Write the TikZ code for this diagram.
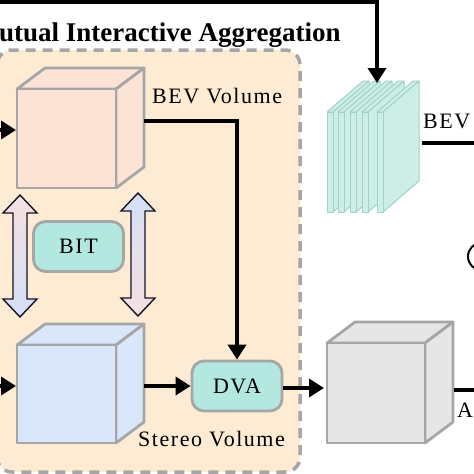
\documentclass[tikz,border=0pt]{standalone}
\usepackage{fontspec}
\setmainfont{Liberation Serif}
\newfontfamily\labfont[LetterSpace=7]{Liberation Serif}
\usetikzlibrary{arrows.meta}
\definecolor{bgorange}{HTML}{FDEBD3}
\definecolor{bevpink}{HTML}{FCE3D5}
\definecolor{stblue}{HTML}{DAE7FB}
\definecolor{grayc}{HTML}{E6E6E6}
\definecolor{tealc}{HTML}{B2E8DF}
\definecolor{slicec}{HTML}{CCEEE7}
\definecolor{sliceline}{HTML}{A2D2CA}
\definecolor{cubeline}{HTML}{A6A6A6}
\definecolor{arrpink}{HTML}{F6E1E2}
\definecolor{arrblue}{HTML}{D3DFF6}
\definecolor{arrline}{HTML}{141428}
\newcommand\drawcube[5]{%
  \begin{scope}[shift={(#1,#2)}]
    \filldraw[cubestyle, fill=#5] (0,0) -- ++(28,-21) -- ++(#3,0) -- ++(-28,21) -- cycle;
    \filldraw[cubestyle, fill=#5] (#3,0) -- ++(28,-21) -- ++(0,#4) -- ++(-28,21) -- cycle;
    \filldraw[cubestyle, fill=#5] (0,0) rectangle (#3,#4);
  \end{scope}}
\newcommand\drawslice[1]{%
  \begin{scope}[shift={(#1,112)}]
    \filldraw[slicestyle] (0,0) -- ++(36,-31) -- ++(6,0) -- ++(-36,31) -- cycle;
    \filldraw[slicestyle] (6,0) -- ++(36,-31) -- ++(0,100) -- ++(-36,31) -- cycle;
    \filldraw[slicestyle] (0,0) rectangle (6,100);
  \end{scope}}
\begin{document}
\begin{tikzpicture}[x=1pt,y=-1pt,
  cubestyle/.style={draw=cubeline, line width=2.8pt, line join=round},
  slicestyle/.style={draw=sliceline, fill=slicec, line width=1pt, line join=round},
  box/.style={draw=cubeline, fill=tealc, line width=2.8pt, rounded corners=12pt,
    minimum width=90pt, minimum height=50pt, inner sep=0pt, font=\labfont\fontsize{22}{24}\selectfont},
  lab/.style={inner sep=0pt, anchor=base west, font=\labfont\fontsize{22}{24}\selectfont},
  conn/.style={line width=3.6pt, draw=black},
  arr/.style={conn, -{Triangle[length=15pt,width=18pt]}}
]
\useasboundingbox (0,0) rectangle (474,474);
\clip (0,0) rectangle (474,474);
\fill[white] (0,0) rectangle (474,474);

% group frame
\draw[draw=cubeline, fill=bgorange, line width=3.5pt, dash pattern=on 10pt off 7pt,
  rounded corners=15pt] (-3,50) rectangle (300,472);

% title
\node[inner sep=0pt, anchor=base west, font=\bfseries\fontsize{27}{29}\selectfont] (title) at (-1,41) {utual Interactive Aggregation};

% cubes
\drawcube{17}{89}{99}{99}{bevpink}
\drawcube{17}{345}{99}{98}{stblue}
\drawcube{327}{343}{98}{100}{grayc}

% slices
\drawslice{327}
\drawslice{338}
\drawslice{350}
\drawslice{362}
\drawslice{377}

% double arrows
\shadedraw[top color=arrpink, bottom color=arrblue, draw=arrline, line width=1.4pt]
  (20,195) -- (37,213) -- (27,213) -- (27,299) -- (37,299) -- (20,317) -- (3,299)
  -- (13,299) -- (13,213) -- (3,213) -- cycle;
\shadedraw[top color=arrblue, bottom color=arrpink, draw=arrline, line width=1.4pt]
  (138,193) -- (155,211) -- (145,211) -- (145,298) -- (155,298) -- (138,316) -- (121,298)
  -- (131,298) -- (131,211) -- (121,211) -- cycle;

% nodes
\node[box] (bit) at (78.5,246.5) {BIT};
\node[box] (dva) at (237,386) {DVA};

% labels
\node[lab] (bevlab) at (152,103) {BEV Volume};
\node[lab] (stlab) at (138,446) {Stereo Volume};
\node[lab] (bevr) at (423,128) {BEV};
\node[lab] (alab) at (457,417) {A};

% coordinates
\coordinate (inA) at (-10,130);
\coordinate (bevIn) at (16,130);
\coordinate (inB) at (-10,386);
\coordinate (stIn) at (16,386);
\coordinate (bevOut) at (144,121);
\coordinate (stOut) at (144,386);
\coordinate (grayIn) at (324,388);
\coordinate (grayOut) at (454,390);
\coordinate (grayEnd) at (480,390);
\coordinate (topL) at (-10,2);
\coordinate (sliceTop) at (377,83);
\coordinate (sliceOut) at (422,143);
\coordinate (sliceEnd) at (480,143);

% connectors
\draw[arr] (inA) -- (bevIn);
\draw[arr] (inB) -- (stIn);
\draw[arr] (bevOut) -| (dva.north);
\draw[arr] (stOut) -- (dva.west);
\draw[arr] (dva.east |- grayIn) -- (grayIn);
\draw[conn] (grayOut) -- (grayEnd);
\draw[arr] (topL) -| (sliceTop);
\draw[conn] (sliceOut) -- (sliceEnd);

% partial circle at right edge
\draw[line width=2pt] (481,243) arc[start angle=90, end angle=270, x radius=13pt, y radius=13.5pt];
\end{tikzpicture}
\end{document}
